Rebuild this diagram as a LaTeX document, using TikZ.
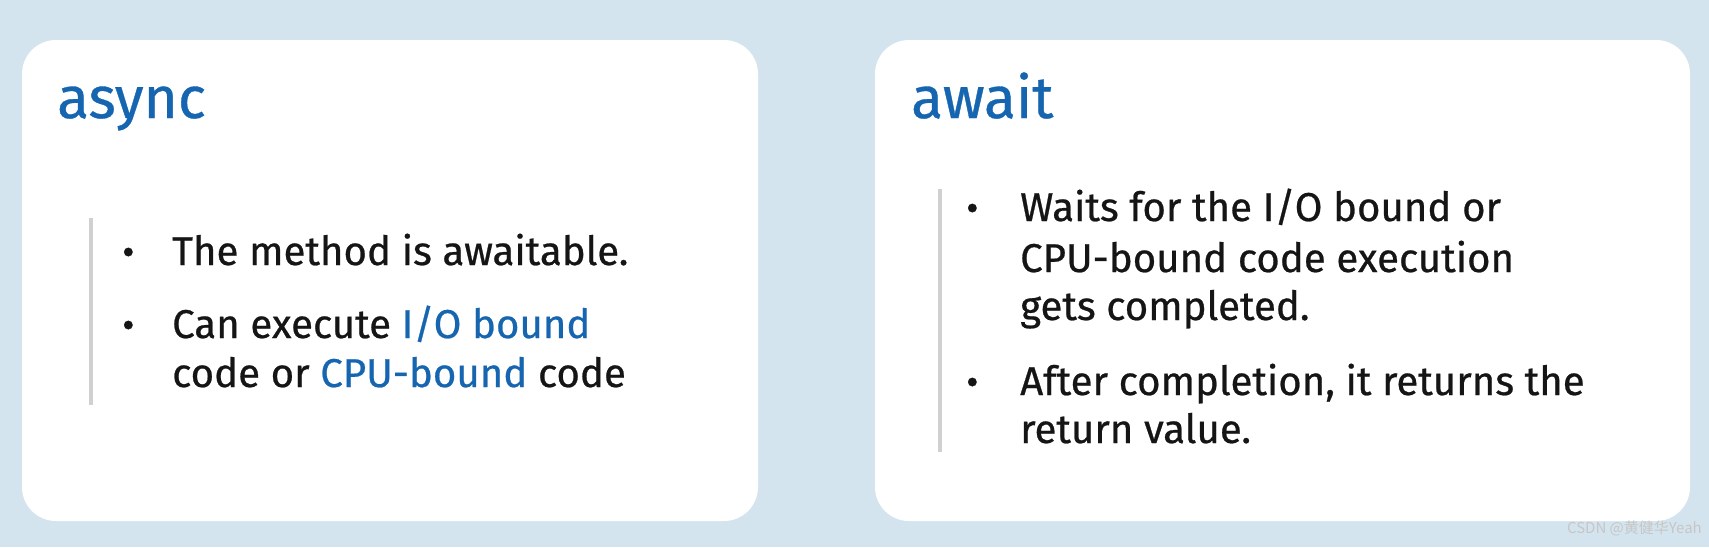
\documentclass[tikz,border=0pt]{standalone}
\usepackage{fontspec}
\setmainfont{Fira Sans}
\newfontfamily\medf{Fira Sans}[FakeBold=0.6]
\newfontfamily\cjk{Noto Sans CJK SC}
\definecolor{bg}{HTML}{D4E4EE}
\definecolor{ttl}{HTML}{1565B0}
\definecolor{txt}{HTML}{151515}
\definecolor{barc}{HTML}{D0D0D0}
\begin{document}
\begin{tikzpicture}[x=1pt,y=-1pt,
  card/.style={fill=white,rounded corners=34pt},
  ttlstyle/.style={anchor=base west,inner sep=0,text=ttl,font=\fontsize{58.5}{58.5}\medf},
  line/.style={anchor=base west,inner sep=0,text=txt,font=\fontsize{40.2}{40.2}\medf},
  bul/.style={anchor=base west,inner sep=0,text=txt,font=\fontsize{38}{38}\medf},
  bar/.style={draw=barc,line width=4pt}]
\fill[bg] (0,0) rectangle (1709,547);
\useasboundingbox (0,0) rectangle (1709,547);
\fill[card] (22,40) rectangle (758,521);
\fill[card] (875,40) rectangle (1690,521);
\node[ttlstyle] (t1) at (57,118) {async};
\node[ttlstyle] (t2) at (911,118) {await};
\coordinate (b1a) at (91,218); \coordinate (b1b) at (91,405);
\draw[bar] (b1a) -- (b1b);
\coordinate (b2a) at (940,189); \coordinate (b2b) at (940,452);
\draw[bar] (b2a) -- (b2b);
\node[bul] (d1) at (122,265) {•};
\node[line] (l1) at (172,265) {The method is awaitable.};
\node[bul] (d2) at (122,338) {•};
\node[line] (l2) at (172,338) {Can execute \textcolor{ttl}{I/O bound}};
\node[line] (l3) at (172,387) {code or \textcolor{ttl}{CPU-bound} code};
\node[bul] (d3) at (966,221) {•};
\node[line] (r1) at (1020,221) {Waits for the I/O bound or};
\node[line] (r2) at (1020,272) {CPU-bound code execution};
\node[line] (r3) at (1020,320) {gets completed.};
\node[bul] (d4) at (966,395) {•};
\node[line] (r4) at (1020,395) {After completion, it returns the};
\node[line] (r5) at (1020,443) {return value.};
\node[anchor=base east,inner sep=0,text=white!55!gray,font=\fontsize{15}{15}\selectfont\cjk] (wm) at (1702,533) {CSDN @黄健华Yeah};
\end{tikzpicture}
\end{document}
